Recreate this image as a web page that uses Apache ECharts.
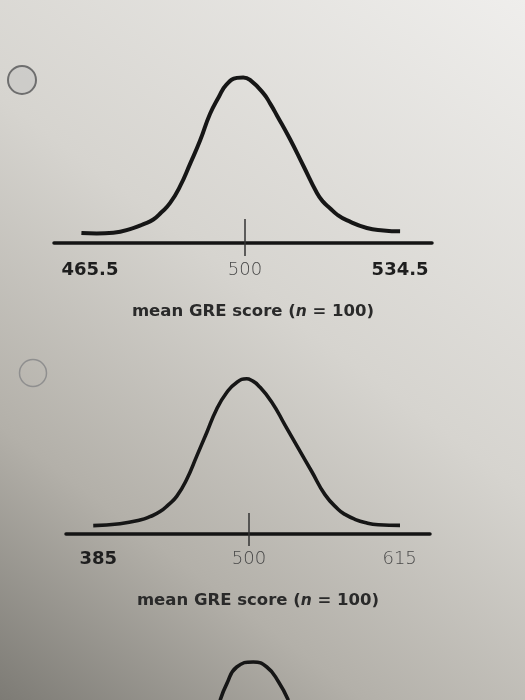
<!DOCTYPE html>
<html>
<head>
<meta charset="utf-8">
<script src="https://cdn.jsdelivr.net/npm/echarts@6/dist/echarts.min.js"></script>
<style>
html,body{margin:0;padding:0;}
#chart{width:525px;height:700px;}
</style>
</head>
<body>
<div id="chart"></div>
<script>
// ---- Chart 1 (top): mean GRE score, labels 465.5 / 500 / 534.5 ----
var scores1  = [463.6, 467.0, 470.7, 475.1, 477.3, 479.6, 481.4, 483.3, 485.5, 487.8, 490.0, 492.2, 494.1, 495.9, 498.2, 499.6, 501.1, 504.1, 505.6, 507.1, 510.0, 513.0, 516.0, 517.3, 518.9, 520.6, 522.6, 527.1, 530.8, 534.5];
var heights1 = [10.0, 9.6, 10.3, 14.9, 18.7, 23.5, 30.7, 39.8, 56.3, 79.4, 102.5, 129.0, 145.5, 158.6, 165.1, 165.6, 163.1, 149.6, 139.4, 127.6, 104.0, 77.0, 50.0, 41.6, 34.8, 28.0, 22.8, 15.0, 12.6, 11.7];
var tickLabels1 = [465.5, 500, 534.5];
var mean1 = 500;

// ---- Chart 2 (middle): labels 385 / 500 / 615 ----
var scores2  = [381.1, 401.5, 416.8, 424.4, 432.1, 438.4, 444.8, 452.4, 460.1, 467.7, 475.3, 483.0, 490.6, 498.2, 502.1, 507.1, 517.3, 527.5, 537.6, 547.9, 558.0, 568.2, 573.3, 580.9, 588.5, 598.7, 615.3];
var heights2 = [8.4, 10.3, 13.9, 17.3, 22.4, 29.2, 37.6, 54.5, 77.9, 101.3, 124.8, 141.5, 151.6, 155.2, 153.5, 148.6, 132.1, 108.9, 85.8, 62.5, 39.4, 24.5, 19.6, 14.7, 11.5, 9.3, 8.6];
var tickLabels2 = [385, 500, 615];
var mean2 = 500;

// ---- Chart 3 (bottom, cut off): only the top of the curve is visible ----
var scores3  = [492.9, 494.4, 496.6, 500.3, 503.3, 505.9, 508.1];
var heights3 = [121.7, 138.4, 155.0, 160.0, 155.0, 140.3, 121.7];

var axisTitle = ['mean GRE score (', 'n', ' = 100)'];

function zipPts(xs, ys) {
  var out = [];
  for (var i = 0; i < xs.length; i++) out.push([xs[i], ys[i]]);
  return out;
}

var labelRich = {
  b: {fontFamily: 'DejaVu Sans', fontSize: 18, fontWeight: 'bold', color: '#1e1e1e'},
  t: {fontFamily: 'DejaVu Sans', fontSize: 18, fontWeight: 200, color: '#4a4a4a'}
};

function curveSeries(idx, data, width) {
  return {
    type: 'line', xAxisIndex: idx, yAxisIndex: idx,
    data: data, smooth: 0.5, symbol: 'none', silent: true,
    lineStyle: {color: '#161616', width: width, join: 'round', cap: 'butt'},
    clip: true
  };
}

var titleRich = {
  a: {fontFamily: 'DejaVu Sans', fontSize: 16.5, fontWeight: 'bold', color: '#2a2a2a'},
  i: {fontFamily: 'DejaVu Sans', fontSize: 15.5, fontStyle: 'italic', color: '#2a2a2a'}
};
var titleText = '{a|' + axisTitle[0] + '}{i|' + axisTitle[1] + '}{a|' + axisTitle[2] + '}';

var chart = echarts.init(document.getElementById('chart'), null, {renderer: 'canvas'});
chart.setOption({
  animation: false,
  backgroundColor: new echarts.graphic.LinearGradient(1, 0, 0, 1, [
    {offset: 0, color: '#efeeec'},
    {offset: 0.45, color: '#d6d4cf'},
    {offset: 0.75, color: '#b3b0a9'},
    {offset: 1, color: '#7d7b75'}
  ]),
  title: [
    {text: titleText, left: 248, top: 298, textAlign: 'center', textStyle: {rich: titleRich}},
    {text: titleText, left: 253, top: 587, textAlign: 'center', textStyle: {rich: titleRich}}
  ],
  graphic: [
    {type: 'circle', shape: {cx: 22, cy: 80, r: 14}, style: {fill: 'rgba(190,190,190,0.4)', stroke: '#6e6e6e', lineWidth: 2}},
    {type: 'circle', shape: {cx: 33, cy: 373, r: 13.5}, style: {fill: 'rgba(0,0,0,0)', stroke: '#8f8f8f', lineWidth: 1.5}}
  ],
  grid: [
    {left: 54, width: 378, top: 63, height: 180},
    {left: 66, width: 364, top: 354, height: 180},
    {left: 54, width: 378, top: 652, height: 48}
  ],
  xAxis: [
    {
      gridIndex: 0, type: 'value', min: 457.5, max: 541.6,
      splitLine: {show: false},
      axisLine: {show: true, onZero: false, lineStyle: {color: '#141414', width: 3.5}},
      axisTick: {show: true, customValues: [mean1], length: 13, lineStyle: {color: '#333', width: 1.5}},
      axisLabel: {
        show: true, customValues: tickLabels1, margin: 18,
        formatter: function (v) { return (v === mean1 ? '{t|' : '{b|') + v + '}'; },
        rich: labelRich
      }
    },
    {
      gridIndex: 1, type: 'value', min: 360.3, max: 638.2,
      splitLine: {show: false},
      axisLine: {show: true, onZero: false, lineStyle: {color: '#141414', width: 3.5}},
      axisTick: {show: true, customValues: [mean2], length: 12, lineStyle: {color: '#333', width: 1.5}},
      axisLabel: {
        show: true, customValues: tickLabels2, margin: 16,
        formatter: function (v) { return (v === tickLabels2[0] ? '{b|' : '{t|') + v + '}'; },
        rich: labelRich
      }
    },
    {gridIndex: 2, type: 'value', min: 455.9, max: 540.1, show: false}
  ],
  yAxis: [
    {gridIndex: 0, type: 'value', min: 0, max: 180, show: false},
    {gridIndex: 1, type: 'value', min: 0, max: 180, show: false},
    {gridIndex: 2, type: 'value', min: 122, max: 170, show: false}
  ],
  series: [
    Object.assign(curveSeries(0, zipPts(scores1, heights1), 4), {
      markLine: {
        symbol: 'none', silent: true, label: {show: false},
        lineStyle: {color: '#333', width: 1.5, type: 'solid'},
        data: [[{coord: [mean1, 0]}, {coord: [mean1, 24]}]]
      }
    }),
    Object.assign(curveSeries(1, zipPts(scores2, heights2), 3.6), {
      markLine: {
        symbol: 'none', silent: true, label: {show: false},
        lineStyle: {color: '#333', width: 1.5, type: 'solid'},
        data: [[{coord: [mean2, 0]}, {coord: [mean2, 21]}]]
      }
    }),
    Object.assign(curveSeries(2, zipPts(scores3, heights3), 3.6), {clip: false})
  ]
});
</script>
</body>
</html>
